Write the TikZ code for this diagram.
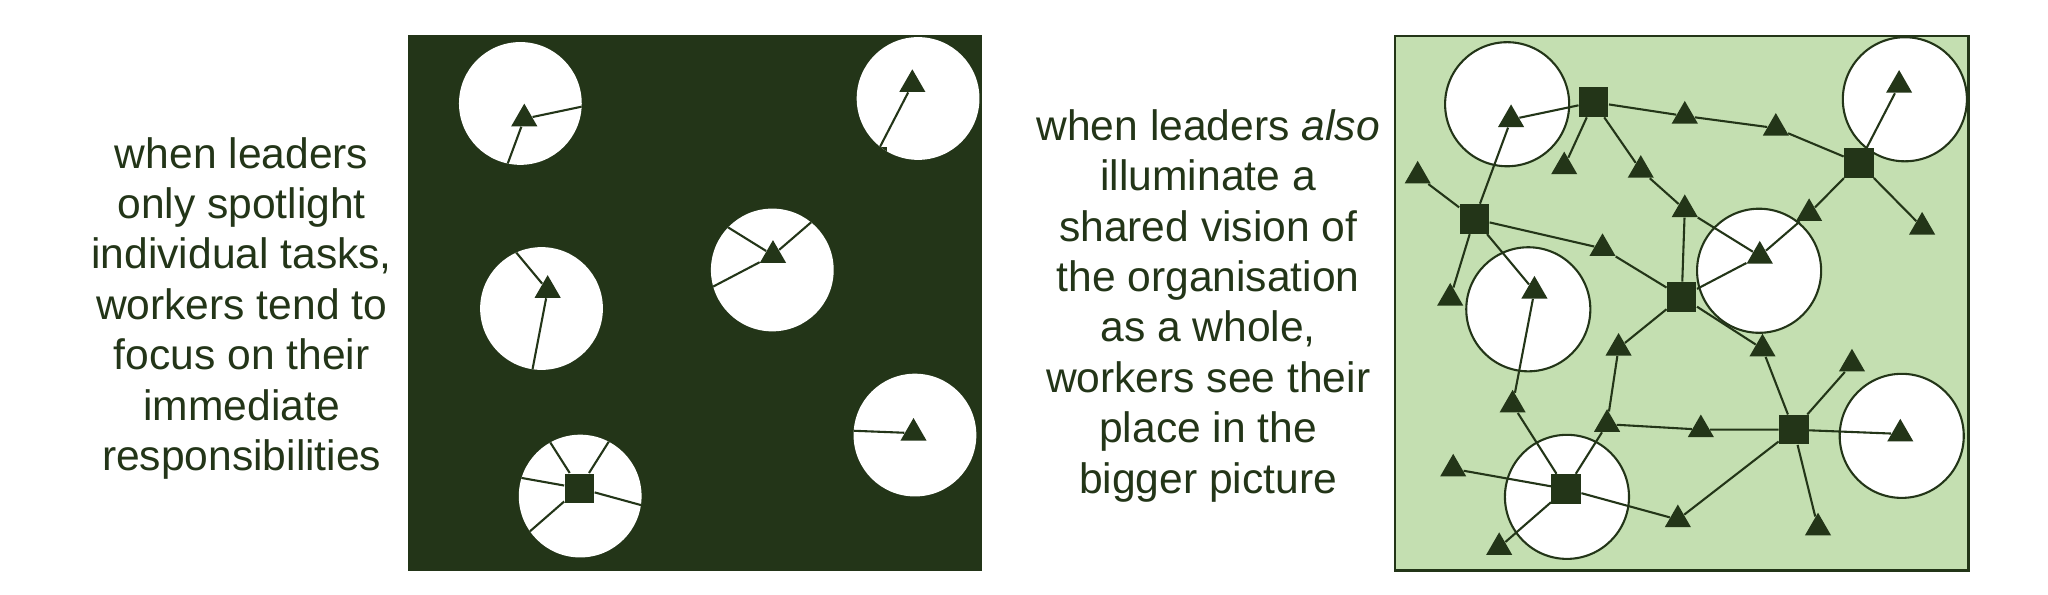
\documentclass[tikz,border=0pt]{standalone}
\usepackage{fontspec}
\setmainfont{Liberation Sans}
\usetikzlibrary{shapes.geometric}
\definecolor{dg}{HTML}{233518}
\definecolor{lg}{HTML}{C4DFB1}
\newcommand\mycircles[1]{%
  \coordinate (#1c1) at (85.9,52.2);
  \coordinate (#1c2) at (390.4,48.4);
  \coordinate (#1c3) at (102.1,209.2);
  \coordinate (#1c4) at (278.8,179.7);
  \coordinate (#1c5) at (388.0,306.1);
  \coordinate (#1c6) at (131.7,352.8);
}
\newcommand\mynet[1]{%
  \node[sq] (#1s1) at (152.2,50.6) {};
  \node[sq] (#1s2) at (355.2,97.1) {};
  \node[sq] (#1s3) at (60.8,140.0) {};
  \node[sq] (#1s4) at (219.6,199.7) {};
  \node[sq] (#1s5) at (305.4,301.4) {};
  \node[sq] (#1s6) at (131.1,346.8) {};
  \node[tri] (#1t1) at (88.9,61.0) {};
  \node[tri] (#1t2) at (386.0,34.7) {};
  \node[tri] (#1t3) at (221.9,58.3) {};
  \node[tri] (#1t4) at (291.6,67.6) {};
  \node[tri] (#1t5) at (129.6,97.1) {};
  \node[tri] (#1t6) at (188.2,99.8) {};
  \node[tri] (#1t7) at (17.4,104.2) {};
  \node[tri] (#1t8) at (221.9,129.9) {};
  \node[tri] (#1t9) at (317.1,132.9) {};
  \node[tri] (#1t10) at (403.6,143.3) {};
  \node[tri] (#1t11) at (158.9,159.7) {};
  \node[tri] (#1t12) at (279.3,165.5) {};
  \node[tri] (#1t13) at (106.8,192.3) {};
  \node[tri] (#1t14) at (42.3,197.7) {};
  \node[tri] (#1t15) at (171.2,236.0) {};
  \node[tri] (#1t16) at (281.4,236.6) {};
  \node[tri] (#1t17) at (349.9,248.1) {};
  \node[tri] (#1t18) at (90.1,279.5) {};
  \node[tri] (#1t19) at (162.4,294.3) {};
  \node[tri] (#1t20) at (234.2,298.4) {};
  \node[tri] (#1t21) at (386.9,301.7) {};
  \node[tri] (#1t22) at (44.6,328.5) {};
  \node[tri] (#1t23) at (216.6,367.3) {};
  \node[tri] (#1t24) at (323.9,373.6) {};
  \node[tri] (#1t25) at (79.8,388.6) {};
  \foreach \a/\b in {s1/t1,s1/t5,s1/t6,s1/t3,t3/t4,t4/s2,s2/t2,s2/t9,t9/t12,s2/t10,
    t6/t8,t8/t12,t8/s4,s4/t12,s3/t1,s3/t7,s3/t11,t11/s4,s3/t13,s3/t14,s4/t15,s4/t16,
    t16/s5,s5/t17,s5/t21,s5/t20,t20/t19,s5/t23,s5/t24,t15/t19,t19/s6,t18/s6,t18/t13,
    t22/s6,s6/t23,s6/t25}{\draw[link] (#1\a) -- (#1\b);}
}
\begin{document}
\begin{tikzpicture}[x=0.5pt,y=-0.5pt,
  sq/.style={rectangle,fill=dg,minimum size=11.25pt,inner sep=0pt},
  tri/.style={regular polygon,regular polygon sides=3,fill=dg,minimum size=11.55pt,inner sep=0pt,yshift=-1.45pt},
  link/.style={draw=dg,line width=0.8pt},
  txt/.style={text=dg,align=center,font=\fontsize{16.3}{19.3}\selectfont}]
\useasboundingbox (0,0) rectangle (1568,455);
\fill[white] (0,0) rectangle (1568,455);
% left text
\node[txt] (lefttext) at (185,236) {when leaders\\only spotlight\\individual tasks,\\workers tend to\\focus on their\\immediate\\responsibilities};
% right text
\node[txt] (righttext) at (925,234) {when leaders \textit{also}\\illuminate a\\shared vision of\\the organisation\\as a whole,\\workers see their\\place in the\\bigger picture};
% left panel
\begin{scope}[shift={(312.5,27)}]
  \fill[dg] (0,0) rectangle (439,410);
  \mycircles{L}
  \foreach \c in {1,...,6}{\fill[white] (Lc\c) circle (23.5pt);}
  \begin{scope}
    \clip (Lc1) circle (23.5pt) (Lc2) circle (23.5pt) (Lc3) circle (23.5pt)
          (Lc4) circle (23.5pt) (Lc5) circle (23.5pt) (Lc6) circle (23.5pt);
    \mynet{L}
  \end{scope}
\end{scope}
% right panel
\begin{scope}[shift={(1068,27.6)}]
  \fill[lg] (0,0) rectangle (439,409);
  \draw[dg,line width=1.1pt] (0,0) rectangle (439,409);
  \mycircles{R}
  \foreach \c in {1,...,6}{\filldraw[fill=white,draw=dg,line width=0.8pt] (Rc\c) circle (23.75pt);}
  \mynet{R}
\end{scope}
\end{tikzpicture}
\end{document}
